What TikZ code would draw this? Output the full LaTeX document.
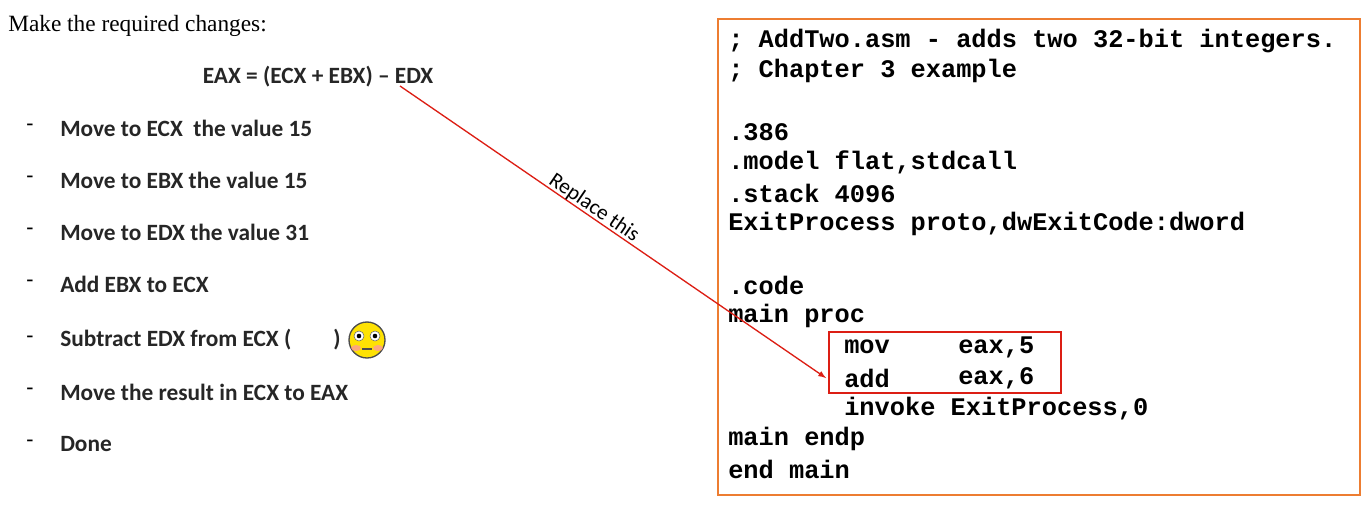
\documentclass[tikz,border=0pt]{standalone}
\usepackage{fontspec}
\setmainfont{Liberation Serif}
\newfontfamily\calfnt{Carlito}
\newfontfamily\courfnt{Liberation Mono}
\definecolor{boxorange}{RGB}{237,125,49}
\definecolor{myred}{RGB}{220,30,20}
\begin{document}
\begin{tikzpicture}[x=0.75pt,y=-0.75pt,
  lefttxt/.style={anchor=west,inner sep=0pt,font=\calfnt\bfseries\fontsize{17.5}{20}\selectfont,text=black!85},
  codetxt/.style={anchor=west,inner sep=0pt,font=\courfnt\bfseries\fontsize{19}{22}\selectfont},
  dashtxt/.style={anchor=west,inner sep=0pt,font=\calfnt\fontsize{17.5}{20}\selectfont}]
\useasboundingbox (0,0) rectangle (1366,521);
\node[anchor=west,inner sep=0pt,font=\fontsize{17.5}{20}\selectfont] (title) at (8,26) {Make the required changes:};
\node[lefttxt,anchor=center] (eq) at (318,77) {EAX = (ECX + EBX) – EDX};
\foreach \y/\t [count=\i] in {128/{Move to ECX\ \ the value 15},180/{Move to EBX the value 15},232/{Move to EDX the value 31},284/{Add EBX to ECX},340/{Subtract EDX from ECX (\hspace{31.5pt})},392/{Move the result in ECX to EAX},444/{Done}}{
  \node[dashtxt] (d\i) at (26,\y) {-};
  \node[lefttxt] (l\i) at (60,\y) {\t};
}
% emoji
\node[circle,minimum size=27pt,inner sep=0pt,draw=black!70,line width=1pt,fill=yellow!85!orange] (emo) at (367,340) {};
\fill[red!40,opacity=0.8] (356,348) ellipse (5 and 3) (378,348) ellipse (5 and 3);
\filldraw[fill=white,draw=black!60] (359,336) circle (5) (375,336) circle (5);
\fill[black] (359,336) circle (2.3) (375,336) circle (2.3);
\draw[line width=1.3pt,black!70] (362,349) -- (372,349);
% code box
\node[draw=boxorange,line width=1.2pt,minimum width=481.5pt,minimum height=357pt,anchor=north west,inner sep=0pt] (box) at (717,18) {};
\foreach \y/\t [count=\i] in {41/{; AddTwo.asm - adds two 32-bit integers.},71/{; Chapter 3 example},132/{.386},162/{.model flat,stdcall},193/{.stack 4096},224/{ExitProcess proto,dwExitCode:dword},285/{.code},316/{main proc},439/{main endp},469/{end main}}{
  \node[codetxt] (c\i) at (728,\y) {\t};
}
\node[codetxt] (mov) at (844,347) {mov};
\node[codetxt] (mova) at (958,347) {eax,5};
\node[codetxt] (add) at (844,378) {add};
\node[codetxt] (adda) at (958,378) {eax,6};
\node[codetxt] (inv) at (844,409) {invoke ExitProcess,0};
\node[draw=myred,line width=1.2pt,minimum width=174pt,minimum height=45.75pt,anchor=north west,inner sep=0pt] (rbox) at (828,331) {};
\coordinate (s) at (400,86);
\coordinate (e) at (826,378);
\draw[myred,line width=1pt,-latex] (s) -- (e);
\node[font=\calfnt\fontsize{16}{18}\selectfont,rotate=-34.4,inner sep=0pt] (rep) at (594,208) {Replace this};
\end{tikzpicture}
\end{document}
